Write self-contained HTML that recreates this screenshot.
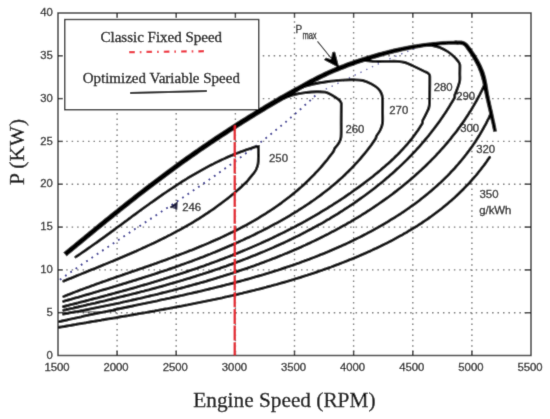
<!DOCTYPE html>
<html><head><meta charset="utf-8"><title>Engine map</title>
<style>html,body{margin:0;padding:0;background:#fff}svg{display:block}</style></head>
<body>
<svg width="550" height="419" viewBox="0 0 550 419">
<rect width="550" height="419" fill="#fff"/>
<defs><filter id="soft" x="0" y="0" width="100%" height="100%" filterUnits="userSpaceOnUse"><feConvolveMatrix order="3" kernelMatrix="1 7 1 7 50 7 1 7 1" divisor="82" edgeMode="duplicate" preserveAlpha="true"/></filter></defs>
<g filter="url(#soft)">
<rect width="550" height="419" fill="#fff"/>
<g stroke="#6e6e6e" stroke-width="1.4" fill="none">
<line x1="117.1" y1="21.2" x2="117.1" y2="355.5" stroke-dasharray="1.5 3.9"/>
<line x1="176.2" y1="21.2" x2="176.2" y2="355.5" stroke-dasharray="1.5 3.9"/>
<line x1="235.4" y1="21.2" x2="235.4" y2="355.5" stroke-dasharray="1.5 3.9"/>
<line x1="294.5" y1="21.2" x2="294.5" y2="355.5" stroke-dasharray="1.5 3.9"/>
<line x1="353.6" y1="21.2" x2="353.6" y2="355.5" stroke-dasharray="1.5 3.9"/>
<line x1="412.8" y1="21.2" x2="412.8" y2="355.5" stroke-dasharray="1.5 3.9"/>
<line x1="471.9" y1="21.2" x2="471.9" y2="355.5" stroke-dasharray="1.5 3.9"/>
<line x1="66.2" y1="312.7" x2="531.0" y2="312.7" stroke-dasharray="1.5 3.96"/>
<line x1="66.2" y1="269.9" x2="531.0" y2="269.9" stroke-dasharray="1.5 3.96"/>
<line x1="66.2" y1="227.1" x2="531.0" y2="227.1" stroke-dasharray="1.5 3.96"/>
<line x1="66.2" y1="184.2" x2="531.0" y2="184.2" stroke-dasharray="1.5 3.96"/>
<line x1="66.2" y1="141.4" x2="531.0" y2="141.4" stroke-dasharray="1.5 3.96"/>
<line x1="66.2" y1="98.6" x2="531.0" y2="98.6" stroke-dasharray="1.5 3.96"/>
<line x1="66.2" y1="55.8" x2="531.0" y2="55.8" stroke-dasharray="1.5 3.96"/>
</g>
<rect x="58.0" y="13.0" width="473.0" height="342.5" fill="none" stroke="#383838" stroke-width="1.5"/>
<g stroke="#1a1a1a" stroke-width="1.4">
<line x1="117.1" y1="13.0" x2="117.1" y2="17.8"/>
<line x1="117.1" y1="355.5" x2="117.1" y2="350.7"/>
<line x1="176.2" y1="13.0" x2="176.2" y2="17.8"/>
<line x1="176.2" y1="355.5" x2="176.2" y2="350.7"/>
<line x1="235.4" y1="13.0" x2="235.4" y2="17.8"/>
<line x1="235.4" y1="355.5" x2="235.4" y2="350.7"/>
<line x1="294.5" y1="13.0" x2="294.5" y2="17.8"/>
<line x1="294.5" y1="355.5" x2="294.5" y2="350.7"/>
<line x1="353.6" y1="13.0" x2="353.6" y2="17.8"/>
<line x1="353.6" y1="355.5" x2="353.6" y2="350.7"/>
<line x1="412.8" y1="13.0" x2="412.8" y2="17.8"/>
<line x1="412.8" y1="355.5" x2="412.8" y2="350.7"/>
<line x1="471.9" y1="13.0" x2="471.9" y2="17.8"/>
<line x1="471.9" y1="355.5" x2="471.9" y2="350.7"/>
<line x1="58.0" y1="312.7" x2="62.8" y2="312.7"/>
<line x1="531.0" y1="312.7" x2="524.7" y2="312.7"/>
<line x1="58.0" y1="269.9" x2="62.8" y2="269.9"/>
<line x1="531.0" y1="269.9" x2="524.7" y2="269.9"/>
<line x1="58.0" y1="227.1" x2="62.8" y2="227.1"/>
<line x1="531.0" y1="227.1" x2="524.7" y2="227.1"/>
<line x1="58.0" y1="184.2" x2="62.8" y2="184.2"/>
<line x1="531.0" y1="184.2" x2="524.7" y2="184.2"/>
<line x1="58.0" y1="141.4" x2="62.8" y2="141.4"/>
<line x1="531.0" y1="141.4" x2="524.7" y2="141.4"/>
<line x1="58.0" y1="98.6" x2="62.8" y2="98.6"/>
<line x1="531.0" y1="98.6" x2="524.7" y2="98.6"/>
<line x1="58.0" y1="55.8" x2="62.8" y2="55.8"/>
<line x1="531.0" y1="55.8" x2="524.7" y2="55.8"/>
</g>
<g font-family="'Liberation Sans', Arial, sans-serif" font-size="11.3" fill="#1c1c1c" stroke="#1c1c1c" stroke-width="0.3">
<text x="57.0" y="370.6" text-anchor="middle">1500</text>
<text x="116.1" y="370.6" text-anchor="middle">2000</text>
<text x="175.2" y="370.6" text-anchor="middle">2500</text>
<text x="234.4" y="370.6" text-anchor="middle">3000</text>
<text x="293.5" y="370.6" text-anchor="middle">3500</text>
<text x="352.6" y="370.6" text-anchor="middle">4000</text>
<text x="411.8" y="370.6" text-anchor="middle">4500</text>
<text x="470.9" y="370.6" text-anchor="middle">5000</text>
<text x="530.0" y="370.6" text-anchor="middle">5500</text>
<text x="52.8" y="358.6" text-anchor="end">0</text>
<text x="52.8" y="315.8" text-anchor="end">5</text>
<text x="52.8" y="273.0" text-anchor="end">10</text>
<text x="52.8" y="230.2" text-anchor="end">15</text>
<text x="52.8" y="187.3" text-anchor="end">20</text>
<text x="52.8" y="144.5" text-anchor="end">25</text>
<text x="52.8" y="101.7" text-anchor="end">30</text>
<text x="52.8" y="58.9" text-anchor="end">35</text>
<text x="52.8" y="16.1" text-anchor="end">40</text>
</g>
<line x1="58.0" y1="312.4" x2="116" y2="311.6" stroke="#222" stroke-width="0.8"/>
<path d="M59.9 279.8 L62.0 278.3 L64.0 276.9 L66.1 275.4 L68.2 274.0 L70.2 272.5 L72.3 271.1 L74.4 269.6 L76.5 268.2 L78.6 266.8 L80.6 265.3 L82.7 263.9 L84.8 262.5 L86.9 261.1 L89.0 259.6 L91.1 258.2 L93.2 256.8 L95.3 255.4 L97.4 254.0 L99.5 252.6 L101.6 251.2 L103.7 249.8 L105.8 248.4 L107.9 247.0 L110.0 245.6 L112.1 244.2 L114.2 242.8 L116.3 241.4 L118.4 240.0 L120.5 238.6 L122.7 237.2 L124.8 235.8 L126.9 234.4 L129.0 233.0 L131.1 231.6 L133.2 230.2 L135.3 228.8 L137.5 227.5 L139.6 226.1 L141.7 224.7 L143.8 223.3 L145.9 221.9 L148.0 220.5 L150.2 219.1 L152.3 217.7 L154.4 216.3 L156.5 215.0 L158.6 213.6 L160.7 212.2 L162.8 210.8 L165.0 209.4 L167.1 208.0 L169.2 206.6 L171.3 205.2 L173.4 203.8 L175.5 202.4 L177.6 201.0 L179.7 199.6 L181.8 198.2 L183.9 196.8 L186.0 195.4 L188.1 194.0 L190.2 192.6 L192.3 191.2 L194.4 189.7 L196.5 188.3 L198.6 186.9 L200.7 185.5 L202.8 184.0 L204.9 182.6 L207.0 181.2 L209.0 179.7 L211.1 178.3 L213.2 176.9 L215.3 175.4 L217.3 174.0 L219.4 172.5 L221.5 171.1 L223.5 169.6 L225.6 168.1 L227.7 166.7 L229.7 165.2 L231.8 163.7 L233.8 162.2 L235.8 160.8 L237.9 159.3 L239.9 157.8 L242.0 156.3 L244.0 154.8 L246.0 153.3 L248.0 151.8 L250.1 150.2 L252.1 148.7 L254.1 147.2 L256.1 145.7 L258.1 144.1 L260.1 142.6 L262.1 141.0 L264.1 139.5 L266.1 137.9 L268.0 136.3 L270.0 134.8 L272.0 133.2 L274.0 131.6 L275.9 130.0 L277.9 128.4 L279.8 126.8 L281.8 125.2 L283.7 123.6 L285.7 122.0 L287.6 120.3 L289.5 118.7 L291.5 117.0 L293.4 115.4 L295.3 113.7 L297.2 112.1 L299.1 110.4 L301.0 108.7 L302.9 107.0 L304.7 105.3 L306.6 103.6 L308.5 101.9 L310.4 100.2 L312.2 98.4 L314.1 96.7 L315.9 95.0 L317.8 93.2 L319.6 91.4" fill="none" stroke="#23238e" stroke-width="1.9" stroke-dasharray="1.8 4.6"/>
<path d="M319.9 91.7 L322.2 90.6 L324.6 89.6 L327.0 88.5 L329.4 87.4 L331.7 86.3 L334.1 85.2 L336.4 84.0 L338.8 82.9 L341.2 81.8 L343.5 80.6 L345.9 79.5 L348.2 78.4 L350.6 77.2 L352.9 76.1 L355.3 74.9 L357.6 73.8 L360.0 72.7 L362.3 71.5 L364.7 70.4 L367.0 69.3 L369.4 68.1 L371.8 67.0 L374.1 65.9 L376.5 64.8 L378.9 63.7 L381.2 62.6 L383.6 61.5 L386.0 60.5 L388.4 59.4 L390.8 58.4 L393.2 57.3 L395.6 56.3 L398.0 55.3 L400.4 54.3 L402.8 53.3 L405.3 52.4 L407.7 51.4 L410.1 50.5 L412.6 49.6 L415.1 48.7 L417.5 47.8 L420.0 47.0" fill="none" stroke="#3a3a9a" stroke-width="1.4" stroke-dasharray="1.4 5" opacity="0.8"/>
<g fill="none" stroke="#0a0a0a" stroke-width="2.9" stroke-linejoin="round" stroke-linecap="round">
<path d="M75.8 256.9 L77.9 255.5 L80.0 254.1 L82.1 252.6 L84.2 251.2 L86.3 249.8 L88.4 248.3 L90.4 246.9 L92.5 245.4 L94.6 243.9 L96.7 242.5 L98.7 241.0 L100.8 239.5 L102.9 238.0 L105.0 236.5 L107.0 235.0 L109.1 233.5 L111.1 232.0 L113.2 230.5 L115.3 228.9 L117.3 227.4 L119.4 225.9 L121.5 224.4 L123.5 222.8 L125.6 221.3 L127.6 219.8 L129.7 218.3 L131.8 216.7 L133.8 215.2 L135.9 213.7 L138.0 212.2 L140.0 210.7 L142.1 209.2 L144.2 207.6 L146.3 206.1 L148.4 204.6 L150.4 203.1 L152.5 201.7 L154.6 200.2 L156.7 198.7 L158.8 197.2 L160.9 195.8 L163.0 194.3 L165.1 192.9 L167.3 191.4 L169.4 190.0 L171.5 188.6 L173.6 187.2 L175.8 185.8 L177.9 184.4 L180.1 183.0 L182.2 181.6 L184.4 180.3 L186.6 178.9 L188.7 177.6 L190.9 176.3 L193.1 175.0 L195.3 173.7 L197.5 172.4 L199.7 171.2 L201.9 169.9 L204.2 168.7 L206.4 167.5 L208.7 166.3 L210.9 165.1 L213.2 164.0 L215.5 162.8 L217.7 161.7 L220.0 160.6 L222.3 159.5 L224.7 158.5 L227.0 157.4 L229.3 156.4 L231.7 155.4 L234.0 154.4 L236.4 153.5 L238.8 152.6 L241.2 151.7 L243.6 150.8 L246.0 149.9 L248.4 149.1 L250.8 148.3 L253.3 147.5 L255.8 146.7 L258.4 146.5 C258.4 147.4 258.4 150.1 258.4 152.0 C258.4 153.9 258.5 156.0 258.4 158.0 C258.3 160.0 258.4 162.1 258.0 164.0 C257.6 165.9 257.0 167.8 256.2 169.5 C255.4 171.2 254.2 172.6 253.0 174.2 C251.8 175.8 249.4 178.5 248.7 179.3 L247.2 181.3 L245.3 183.1 L243.5 184.8 L241.6 186.6 L239.7 188.3 L237.8 190.0 L235.9 191.6 L234.0 193.3 L232.0 194.9 L230.0 196.5 L228.1 198.1 L226.1 199.7 L224.1 201.2 L222.1 202.7 L220.0 204.2 L218.0 205.7 L216.0 207.2 L213.9 208.7 L211.8 210.1 L209.7 211.5 L207.6 213.0 L205.5 214.3 L203.4 215.7 L201.3 217.1 L199.2 218.4 L197.0 219.8 L194.9 221.1 L192.7 222.4 L190.5 223.7 L188.3 224.9 L186.1 226.2 L183.9 227.4 L181.7 228.7 L179.5 229.9 L177.3 231.1 L175.1 232.3 L172.8 233.5 L170.6 234.7 L168.3 235.8 L166.1 237.0 L163.8 238.1 L161.5 239.2 L159.2 240.4 L157.0 241.5 L154.7 242.6 L152.4 243.7 L150.1 244.7 L147.8 245.8 L145.5 246.9 L143.1 247.9 L140.8 249.0 L138.5 250.0 L136.2 251.1 L133.8 252.1 L131.5 253.1 L129.2 254.1 L126.8 255.1 L124.5 256.1 L122.2 257.1 L119.8 258.1 L117.5 259.1 L115.1 260.1 L112.8 261.1 L110.4 262.0 L108.1 263.0 L105.7 264.0 L103.4 264.9 L101.1 265.9 L98.7 266.9 L96.4 267.8 L94.0 268.8 L91.7 269.7 L89.3 270.7 L87.0 271.6 L84.6 272.6 L82.3 273.5 L80.0 274.5 L77.6 275.4 L75.3 276.4 L73.0 277.3 L70.6 278.3 L68.3 279.2 L66.0 280.2 L63.7 281.1" stroke-linejoin="miter"/>
<path d="M278.0 100.5 C278.6 100.2 278.9 100.0 281.6 99.0 C284.3 98.0 290.3 95.7 294.4 94.6 C298.5 93.5 302.7 93.0 306.4 92.5 C310.1 92.0 313.4 91.8 316.5 91.7 C319.6 91.7 322.6 91.6 325.3 92.2 C328.0 92.8 330.3 94.2 332.5 95.4 C334.7 96.6 337.0 98.1 338.4 99.3 C339.8 100.5 340.5 101.4 341.0 102.5 C341.5 103.6 341.3 103.1 341.3 106.0 C341.3 108.9 341.2 114.8 341.2 120.0 C341.1 125.2 341.4 133.3 341.0 137.2 C340.6 141.1 339.6 141.6 338.5 143.5 C337.4 145.4 335.2 147.8 334.5 148.6 L333.8 150.9 L332.3 153.1 L330.7 155.1 L329.1 157.2 L327.5 159.3 L325.9 161.3 L324.2 163.3 L322.6 165.2 L320.9 167.2 L319.2 169.1 L317.5 171.0 L315.7 172.8 L314.0 174.7 L312.2 176.5 L310.4 178.3 L308.6 180.1 L306.8 181.8 L305.0 183.6 L303.1 185.3 L301.2 187.0 L299.3 188.6 L297.4 190.3 L295.5 191.9 L293.6 193.5 L291.6 195.1 L289.7 196.7 L287.7 198.2 L285.7 199.7 L283.7 201.2 L281.7 202.7 L279.6 204.2 L277.6 205.6 L275.5 207.1 L273.5 208.5 L271.4 209.9 L269.3 211.3 L267.2 212.6 L265.1 214.0 L262.9 215.3 L260.8 216.6 L258.6 217.9 L256.5 219.2 L254.3 220.5 L252.1 221.7 L249.9 222.9 L247.7 224.2 L245.5 225.4 L243.2 226.6 L241.0 227.7 L238.8 228.9 L236.5 230.1 L234.2 231.2 L232.0 232.3 L229.7 233.4 L227.4 234.5 L225.1 235.6 L222.8 236.7 L220.5 237.8 L218.2 238.8 L215.8 239.9 L213.5 240.9 L211.2 241.9 L208.8 243.0 L206.5 244.0 L204.1 245.0 L201.8 245.9 L199.4 246.9 L197.0 247.9 L194.7 248.8 L192.3 249.8 L189.9 250.7 L187.5 251.7 L185.1 252.6 L182.7 253.5 L180.3 254.4 L177.9 255.3 L175.5 256.2 L173.1 257.1 L170.7 258.0 L168.3 258.9 L165.9 259.8 L163.5 260.7 L161.1 261.5 L158.6 262.4 L156.2 263.3 L153.8 264.1 L151.4 265.0 L149.0 265.8 L146.5 266.7 L144.1 267.5 L141.7 268.4 L139.3 269.2 L136.9 270.0 L134.5 270.9 L132.0 271.7 L129.6 272.5 L127.2 273.4 L124.8 274.2 L122.4 275.0 L120.0 275.9 L117.6 276.7 L115.2 277.5 L112.8 278.4 L110.4 279.2 L108.0 280.0 L105.7 280.9 L103.3 281.7 L100.9 282.5 L98.5 283.4 L96.2 284.2 L93.8 285.1 L91.5 285.9 L89.1 286.8 L86.8 287.6 L84.4 288.5 L82.1 289.4 L79.8 290.2 L77.5 291.1 L75.1 292.0 L72.8 292.9 L70.5 293.8 L68.3 294.7 L66.0 295.6 L63.7 296.5"/>
<path d="M300.0 88.0 C300.6 87.8 301.2 87.5 303.5 86.8 C305.8 86.1 309.5 84.9 313.6 84.0 C317.7 83.1 323.4 82.2 328.2 81.5 C333.0 80.8 338.4 80.4 342.7 80.1 C346.9 79.8 350.3 79.7 353.7 79.8 C357.1 79.9 359.8 79.8 362.8 80.5 C365.8 81.2 368.9 82.6 371.5 84.0 C374.1 85.4 376.6 87.0 378.3 88.8 C380.0 90.5 381.1 92.6 381.8 94.5 C382.5 96.4 382.5 97.1 382.6 100.0 C382.7 102.9 382.6 108.1 382.6 112.0 C382.6 115.9 382.9 120.2 382.5 123.2 C382.1 126.2 381.3 127.9 380.3 130.0 C379.3 132.1 377.1 134.9 376.5 135.9 L375.8 138.4 L374.3 140.6 L372.9 142.7 L371.4 144.8 L369.9 146.8 L368.3 148.9 L366.8 150.9 L365.2 152.9 L363.6 154.8 L361.9 156.8 L360.3 158.7 L358.6 160.6 L356.9 162.5 L355.2 164.3 L353.5 166.2 L351.8 168.0 L350.0 169.8 L348.2 171.6 L346.4 173.3 L344.6 175.1 L342.8 176.8 L340.9 178.5 L339.0 180.2 L337.2 181.8 L335.3 183.5 L333.3 185.1 L331.4 186.7 L329.5 188.3 L327.5 189.8 L325.5 191.4 L323.5 192.9 L321.5 194.5 L319.5 196.0 L317.5 197.4 L315.5 198.9 L313.4 200.4 L311.3 201.8 L309.3 203.2 L307.2 204.6 L305.1 206.0 L303.0 207.4 L300.8 208.8 L298.7 210.1 L296.6 211.5 L294.4 212.8 L292.2 214.1 L290.1 215.4 L287.9 216.7 L285.7 218.0 L283.5 219.2 L281.3 220.5 L279.1 221.7 L276.9 222.9 L274.7 224.1 L272.4 225.3 L270.2 226.5 L268.0 227.7 L265.7 228.9 L263.5 230.0 L261.2 231.2 L258.9 232.3 L256.7 233.4 L254.4 234.6 L252.1 235.7 L249.8 236.8 L247.5 237.8 L245.2 238.9 L242.9 240.0 L240.6 241.0 L238.3 242.1 L236.0 243.1 L233.7 244.2 L231.4 245.2 L229.0 246.2 L226.7 247.2 L224.4 248.2 L222.0 249.2 L219.7 250.1 L217.3 251.1 L215.0 252.1 L212.6 253.0 L210.3 254.0 L207.9 254.9 L205.5 255.8 L203.2 256.8 L200.8 257.7 L198.4 258.6 L196.0 259.5 L193.6 260.4 L191.3 261.3 L188.9 262.1 L186.5 263.0 L184.1 263.9 L181.7 264.7 L179.3 265.6 L176.9 266.4 L174.5 267.3 L172.1 268.1 L169.7 268.9 L167.3 269.8 L164.9 270.6 L162.5 271.4 L160.0 272.2 L157.6 273.0 L155.2 273.8 L152.8 274.6 L150.4 275.4 L148.0 276.1 L145.6 276.9 L143.1 277.7 L140.7 278.5 L138.3 279.2 L135.9 280.0 L133.5 280.7 L131.0 281.5 L128.6 282.2 L126.2 283.0 L123.8 283.7 L121.3 284.5 L118.9 285.2 L116.5 285.9 L114.1 286.6 L111.7 287.4 L109.2 288.1 L106.8 288.8 L104.4 289.5 L102.0 290.2 L99.6 290.9 L97.2 291.7 L94.7 292.4 L92.3 293.1 L89.9 293.8 L87.5 294.5 L85.1 295.2 L82.7 295.9 L80.3 296.6 L77.9 297.3 L75.5 297.9 L73.1 298.6 L70.7 299.3 L68.3 300.0 L65.9 300.7 L63.5 301.4"/>
<path d="M361.0 60.5 C361.8 60.5 363.2 60.5 365.7 60.6 C368.2 60.8 372.5 61.3 375.9 61.4 C379.3 61.5 382.4 61.4 386.0 61.4 C389.6 61.4 394.5 61.2 397.7 61.4 C400.9 61.6 402.5 61.8 405.0 62.5 C407.5 63.2 409.5 64.3 412.7 65.8 C415.9 67.3 421.5 70.0 424.1 71.3 C426.7 72.5 427.3 72.6 428.2 73.3 C429.1 74.0 429.3 74.2 429.6 75.2 C429.9 76.2 429.8 76.5 429.8 79.0 C429.8 81.5 429.8 85.6 429.7 90.0 C429.6 94.4 429.8 101.8 429.3 105.5 C428.9 109.2 428.1 109.5 427.0 112.0 C425.9 114.5 423.4 119.2 422.7 120.6 L422.3 123.4 L421.0 125.5 L419.6 127.7 L418.3 129.8 L416.8 131.8 L415.4 133.9 L413.9 135.9 L412.4 137.9 L410.9 139.8 L409.3 141.7 L407.7 143.7 L406.1 145.5 L404.4 147.4 L402.7 149.3 L401.0 151.1 L399.3 152.9 L397.5 154.7 L395.7 156.4 L393.9 158.2 L392.1 159.9 L390.3 161.6 L388.4 163.3 L386.5 164.9 L384.6 166.6 L382.7 168.2 L380.8 169.9 L378.9 171.5 L376.9 173.1 L374.9 174.7 L373.0 176.3 L371.0 177.8 L369.0 179.4 L367.0 180.9 L365.0 182.4 L363.0 184.0 L360.9 185.5 L358.9 187.0 L356.8 188.5 L354.8 189.9 L352.7 191.4 L350.7 192.9 L348.6 194.3 L346.5 195.7 L344.4 197.2 L342.3 198.6 L340.2 200.0 L338.1 201.4 L335.9 202.8 L333.8 204.1 L331.7 205.5 L329.5 206.8 L327.4 208.2 L325.2 209.5 L323.0 210.8 L320.9 212.1 L318.7 213.4 L316.5 214.7 L314.3 216.0 L312.1 217.2 L309.9 218.5 L307.7 219.7 L305.5 221.0 L303.3 222.2 L301.1 223.4 L298.8 224.6 L296.6 225.8 L294.4 227.0 L292.1 228.1 L289.9 229.3 L287.6 230.4 L285.4 231.6 L283.1 232.7 L280.9 233.8 L278.6 234.9 L276.3 236.0 L274.0 237.1 L271.8 238.2 L269.5 239.3 L267.2 240.3 L264.9 241.4 L262.6 242.4 L260.3 243.5 L258.0 244.5 L255.7 245.5 L253.4 246.5 L251.1 247.5 L248.7 248.5 L246.4 249.5 L244.1 250.4 L241.8 251.4 L239.4 252.4 L237.1 253.3 L234.7 254.2 L232.4 255.2 L230.1 256.1 L227.7 257.0 L225.4 257.9 L223.0 258.8 L220.6 259.7 L218.3 260.6 L215.9 261.5 L213.5 262.4 L211.2 263.2 L208.8 264.1 L206.4 264.9 L204.1 265.8 L201.7 266.6 L199.3 267.4 L196.9 268.3 L194.5 269.1 L192.1 269.9 L189.7 270.7 L187.3 271.5 L184.9 272.3 L182.5 273.1 L180.1 273.9 L177.7 274.6 L175.3 275.4 L172.9 276.2 L170.5 276.9 L168.1 277.7 L165.7 278.4 L163.3 279.2 L160.9 279.9 L158.4 280.7 L156.0 281.4 L153.6 282.1 L151.2 282.8 L148.7 283.6 L146.3 284.3 L143.9 285.0 L141.5 285.7 L139.0 286.4 L136.6 287.1 L134.2 287.8 L131.7 288.5 L129.3 289.1 L126.9 289.8 L124.4 290.5 L122.0 291.2 L119.5 291.8 L117.1 292.5 L114.7 293.2 L112.2 293.8 L109.8 294.5 L107.3 295.2 L104.9 295.8 L102.5 296.5 L100.0 297.1 L97.6 297.8 L95.1 298.4 L92.7 299.0 L90.2 299.7 L87.8 300.3 L85.3 301.0 L82.9 301.6 L80.5 302.2 L78.0 302.9 L75.6 303.5 L73.1 304.1 L70.7 304.7 L68.2 305.4 L65.8 306.0 L63.3 306.6"/>
<path d="M428.0 45.0 C428.6 45.0 429.5 44.9 431.4 45.3 C433.3 45.7 436.8 46.3 439.5 47.4 C442.2 48.5 445.3 50.0 447.8 51.6 C450.3 53.2 452.8 55.5 454.6 57.2 C456.4 58.9 457.7 60.8 458.6 62.0 C459.5 63.2 459.6 63.5 459.8 64.5 C460.0 65.5 459.9 66.4 459.9 68.0 C459.9 69.6 459.8 71.8 459.8 74.0 C459.8 76.2 460.1 78.6 459.7 81.0 C459.3 83.4 458.3 85.9 457.5 88.2 C456.7 90.5 455.2 93.9 454.8 95.0 L454.7 97.6 L453.4 99.8 L452.1 102.0 L450.8 104.1 L449.5 106.3 L448.1 108.5 L446.8 110.6 L445.4 112.7 L444.0 114.8 L442.6 116.9 L441.1 119.0 L439.7 121.1 L438.2 123.1 L436.7 125.2 L435.2 127.2 L433.7 129.2 L432.1 131.2 L430.6 133.2 L429.0 135.2 L427.4 137.1 L425.8 139.0 L424.2 141.0 L422.5 142.9 L420.9 144.8 L419.2 146.7 L417.5 148.5 L415.8 150.4 L414.1 152.2 L412.3 154.1 L410.6 155.9 L408.8 157.7 L407.1 159.5 L405.3 161.2 L403.5 163.0 L401.7 164.7 L399.8 166.5 L398.0 168.2 L396.1 169.9 L394.3 171.6 L392.4 173.3 L390.5 174.9 L388.6 176.6 L386.7 178.2 L384.8 179.8 L382.8 181.5 L380.9 183.1 L378.9 184.6 L377.0 186.2 L375.0 187.8 L373.0 189.3 L371.0 190.8 L369.0 192.4 L367.0 193.9 L365.0 195.4 L362.9 196.9 L360.9 198.3 L358.8 199.8 L356.8 201.2 L354.7 202.7 L352.6 204.1 L350.5 205.5 L348.4 206.9 L346.3 208.3 L344.2 209.6 L342.1 211.0 L340.0 212.3 L337.9 213.7 L335.7 215.0 L333.6 216.3 L331.4 217.6 L329.3 218.9 L327.1 220.1 L324.9 221.4 L322.8 222.7 L320.6 223.9 L318.4 225.1 L316.2 226.3 L314.0 227.5 L311.8 228.7 L309.5 229.9 L307.3 231.1 L305.1 232.3 L302.8 233.4 L300.6 234.6 L298.4 235.7 L296.1 236.8 L293.8 237.9 L291.6 239.0 L289.3 240.1 L287.0 241.2 L284.8 242.3 L282.5 243.3 L280.2 244.4 L277.9 245.4 L275.6 246.4 L273.3 247.5 L271.0 248.5 L268.6 249.5 L266.3 250.5 L264.0 251.5 L261.7 252.4 L259.3 253.4 L257.0 254.4 L254.7 255.3 L252.3 256.2 L250.0 257.2 L247.6 258.1 L245.3 259.0 L242.9 259.9 L240.5 260.8 L238.2 261.7 L235.8 262.6 L233.4 263.5 L231.0 264.3 L228.6 265.2 L226.3 266.1 L223.9 266.9 L221.5 267.7 L219.1 268.6 L216.7 269.4 L214.3 270.2 L211.9 271.0 L209.5 271.8 L207.1 272.6 L204.7 273.4 L202.3 274.2 L199.8 274.9 L197.4 275.7 L195.0 276.5 L192.6 277.2 L190.2 278.0 L187.7 278.7 L185.3 279.4 L182.9 280.2 L180.4 280.9 L178.0 281.6 L175.6 282.3 L173.2 283.0 L170.7 283.7 L168.3 284.4 L165.8 285.1 L163.4 285.8 L161.0 286.5 L158.5 287.1 L156.1 287.8 L153.6 288.5 L151.2 289.1 L148.8 289.8 L146.3 290.4 L143.9 291.1 L141.4 291.7 L139.0 292.3 L136.5 293.0 L134.1 293.6 L131.7 294.2 L129.2 294.8 L126.8 295.4 L124.3 296.0 L121.9 296.6 L119.4 297.2 L117.0 297.8 L114.6 298.4 L112.1 299.0 L109.7 299.6 L107.3 300.2 L104.8 300.8 L102.4 301.3 L99.9 301.9 L97.5 302.5 L95.1 303.1 L92.7 303.6 L90.2 304.2 L87.8 304.7 L85.4 305.3 L83.0 305.9 L80.5 306.4 L78.1 307.0 L75.7 307.5 L73.3 308.1 L70.9 308.6 L68.5 309.1 L66.1 309.7 L63.7 310.2"/>
<path d="M485.3 83.1 L484.3 85.4 L483.2 87.7 L482.1 90.0 L480.9 92.3 L479.8 94.6 L478.6 96.8 L477.4 99.0 L476.2 101.3 L474.9 103.5 L473.7 105.6 L472.4 107.8 L471.1 110.0 L469.7 112.1 L468.4 114.3 L467.0 116.4 L465.6 118.5 L464.2 120.6 L462.8 122.6 L461.3 124.7 L459.9 126.7 L458.4 128.7 L456.9 130.8 L455.3 132.8 L453.8 134.7 L452.2 136.7 L450.7 138.7 L449.1 140.6 L447.5 142.5 L445.8 144.5 L444.2 146.4 L442.5 148.2 L440.8 150.1 L439.2 152.0 L437.4 153.8 L435.7 155.7 L434.0 157.5 L432.2 159.3 L430.5 161.1 L428.7 162.8 L426.9 164.6 L425.1 166.4 L423.2 168.1 L421.4 169.8 L419.5 171.5 L417.7 173.2 L415.8 174.9 L413.9 176.6 L412.0 178.2 L410.1 179.9 L408.2 181.5 L406.2 183.1 L404.3 184.7 L402.3 186.3 L400.4 187.9 L398.4 189.4 L396.4 191.0 L394.4 192.5 L392.4 194.1 L390.3 195.6 L388.3 197.1 L386.3 198.5 L384.2 200.0 L382.1 201.5 L380.1 202.9 L378.0 204.4 L375.9 205.8 L373.8 207.2 L371.7 208.6 L369.6 210.0 L367.5 211.3 L365.4 212.7 L363.2 214.0 L361.1 215.4 L358.9 216.7 L356.8 218.0 L354.6 219.3 L352.5 220.6 L350.3 221.9 L348.1 223.1 L345.9 224.4 L343.7 225.6 L341.5 226.8 L339.3 228.1 L337.1 229.3 L334.9 230.5 L332.6 231.6 L330.4 232.8 L328.2 234.0 L325.9 235.1 L323.7 236.3 L321.4 237.4 L319.2 238.5 L316.9 239.6 L314.6 240.7 L312.3 241.8 L310.1 242.9 L307.8 243.9 L305.5 245.0 L303.2 246.0 L300.9 247.1 L298.6 248.1 L296.3 249.1 L293.9 250.1 L291.6 251.1 L289.3 252.1 L287.0 253.1 L284.6 254.0 L282.3 255.0 L280.0 255.9 L277.6 256.9 L275.3 257.8 L272.9 258.7 L270.6 259.6 L268.2 260.5 L265.8 261.4 L263.5 262.3 L261.1 263.2 L258.7 264.1 L256.4 264.9 L254.0 265.8 L251.6 266.6 L249.2 267.5 L246.8 268.3 L244.4 269.1 L242.0 269.9 L239.7 270.7 L237.3 271.5 L234.9 272.3 L232.5 273.1 L230.1 273.9 L227.6 274.6 L225.2 275.4 L222.8 276.2 L220.4 276.9 L218.0 277.6 L215.6 278.4 L213.2 279.1 L210.7 279.8 L208.3 280.5 L205.9 281.3 L203.5 282.0 L201.0 282.6 L198.6 283.3 L196.2 284.0 L193.7 284.7 L191.3 285.4 L188.9 286.0 L186.4 286.7 L184.0 287.4 L181.6 288.0 L179.1 288.7 L176.7 289.3 L174.2 289.9 L171.8 290.6 L169.3 291.2 L166.9 291.8 L164.5 292.4 L162.0 293.0 L159.6 293.7 L157.1 294.3 L154.6 294.9 L152.2 295.4 L149.7 296.0 L147.3 296.6 L144.8 297.2 L142.4 297.8 L139.9 298.4 L137.5 298.9 L135.0 299.5 L132.5 300.0 L130.1 300.6 L127.6 301.1 L125.2 301.7 L122.7 302.2 L120.2 302.8 L117.8 303.3 L115.3 303.8 L112.8 304.4 L110.4 304.9 L107.9 305.4 L105.4 305.9 L103.0 306.4 L100.5 306.9 L98.0 307.4 L95.6 307.9 L93.1 308.4 L90.6 308.9 L88.2 309.4 L85.7 309.9 L83.2 310.4 L80.8 310.8 L78.3 311.3 L75.8 311.8 L73.3 312.2 L70.9 312.7 L68.4 313.2 L65.9 313.6 L63.5 314.1"/>
<path d="M491.1 113.1 L490.0 115.4 L488.9 117.8 L487.7 120.1 L486.6 122.5 L485.4 124.8 L484.1 127.0 L482.9 129.3 L481.6 131.5 L480.3 133.7 L479.0 135.9 L477.6 138.1 L476.2 140.2 L474.9 142.4 L473.4 144.5 L472.0 146.6 L470.5 148.6 L469.0 150.7 L467.5 152.7 L466.0 154.7 L464.4 156.7 L462.8 158.6 L461.2 160.6 L459.6 162.5 L458.0 164.4 L456.3 166.3 L454.7 168.2 L453.0 170.0 L451.2 171.8 L449.5 173.7 L447.8 175.5 L446.0 177.2 L444.2 179.0 L442.4 180.7 L440.6 182.5 L438.7 184.2 L436.9 185.8 L435.0 187.5 L433.1 189.2 L431.2 190.8 L429.3 192.4 L427.4 194.0 L425.4 195.6 L423.5 197.2 L421.5 198.7 L419.5 200.3 L417.5 201.8 L415.5 203.3 L413.5 204.8 L411.4 206.2 L409.4 207.7 L407.3 209.1 L405.2 210.6 L403.2 212.0 L401.1 213.4 L399.0 214.7 L396.8 216.1 L394.7 217.5 L392.6 218.8 L390.4 220.1 L388.3 221.4 L386.1 222.7 L384.0 224.0 L381.8 225.3 L379.6 226.5 L377.4 227.8 L375.2 229.0 L373.0 230.2 L370.8 231.4 L368.6 232.6 L366.4 233.8 L364.2 234.9 L361.9 236.1 L359.7 237.2 L357.4 238.3 L355.2 239.4 L352.9 240.5 L350.7 241.6 L348.4 242.7 L346.1 243.8 L343.8 244.8 L341.5 245.9 L339.2 246.9 L336.9 247.9 L334.6 248.9 L332.3 249.9 L330.0 250.9 L327.7 251.9 L325.4 252.8 L323.0 253.8 L320.7 254.7 L318.4 255.7 L316.0 256.6 L313.7 257.5 L311.3 258.4 L309.0 259.3 L306.6 260.2 L304.2 261.0 L301.8 261.9 L299.5 262.8 L297.1 263.6 L294.7 264.5 L292.3 265.3 L289.9 266.1 L287.5 266.9 L285.1 267.7 L282.7 268.5 L280.3 269.3 L277.9 270.1 L275.5 270.8 L273.1 271.6 L270.7 272.4 L268.3 273.1 L265.8 273.8 L263.4 274.6 L261.0 275.3 L258.5 276.0 L256.1 276.7 L253.7 277.4 L251.2 278.1 L248.8 278.8 L246.3 279.5 L243.9 280.2 L241.4 280.8 L239.0 281.5 L236.5 282.2 L234.1 282.8 L231.6 283.5 L229.1 284.1 L226.7 284.7 L224.2 285.4 L221.8 286.0 L219.3 286.6 L216.8 287.2 L214.3 287.8 L211.9 288.4 L209.4 289.0 L206.9 289.6 L204.5 290.2 L202.0 290.8 L199.5 291.4 L197.0 292.0 L194.5 292.5 L192.1 293.1 L189.6 293.7 L187.1 294.2 L184.6 294.8 L182.2 295.4 L179.7 295.9 L177.2 296.5 L174.7 297.0 L172.2 297.5 L169.8 298.1 L167.3 298.6 L164.8 299.2 L162.3 299.7 L159.8 300.2 L157.4 300.8 L154.9 301.3 L152.4 301.8 L149.9 302.3 L147.4 302.8 L145.0 303.4 L142.5 303.9 L140.0 304.4 L137.6 304.9 L135.1 305.4 L132.6 306.0 L130.1 306.5 L127.7 307.0 L125.2 307.5 L122.8 308.0 L120.3 308.5 L117.8 309.0 L115.4 309.5 L112.9 310.1 L110.5 310.6 L108.0 311.1 L105.6 311.6 L103.1 312.1 L100.7 312.6 L98.2 313.1 L95.8 313.6 L93.4 314.2 L90.9 314.7 L88.5 315.2 L86.1 315.7 L83.6 316.2 L81.2 316.8 L78.8 317.3 L76.4 317.8 L74.0 318.4 L71.6 318.9 L69.2 319.4 L66.8 320.0 L64.4 320.5 L62.0 321.0 L59.6 321.6"/>
<path d="M489.6 157.3 L488.1 159.4 L486.7 161.5 L485.2 163.6 L483.7 165.7 L482.1 167.7 L480.6 169.7 L479.0 171.7 L477.4 173.7 L475.8 175.6 L474.1 177.5 L472.5 179.4 L470.8 181.3 L469.1 183.2 L467.4 185.0 L465.6 186.8 L463.9 188.6 L462.1 190.4 L460.3 192.1 L458.5 193.9 L456.7 195.6 L454.9 197.3 L453.0 199.0 L451.2 200.6 L449.3 202.2 L447.4 203.8 L445.5 205.4 L443.5 207.0 L441.6 208.6 L439.6 210.1 L437.6 211.6 L435.6 213.1 L433.6 214.6 L431.6 216.1 L429.6 217.5 L427.6 219.0 L425.5 220.4 L423.4 221.8 L421.4 223.2 L419.3 224.5 L417.2 225.9 L415.0 227.2 L412.9 228.5 L410.8 229.8 L408.6 231.1 L406.5 232.4 L404.3 233.6 L402.1 234.9 L399.9 236.1 L397.7 237.3 L395.5 238.5 L393.3 239.7 L391.1 240.9 L388.9 242.0 L386.6 243.2 L384.4 244.3 L382.1 245.4 L379.9 246.5 L377.6 247.6 L375.3 248.7 L373.0 249.7 L370.7 250.8 L368.4 251.8 L366.1 252.9 L363.8 253.9 L361.5 254.9 L359.2 255.9 L356.9 256.8 L354.6 257.8 L352.2 258.8 L349.9 259.7 L347.6 260.7 L345.2 261.6 L342.9 262.5 L340.6 263.4 L338.2 264.3 L335.9 265.2 L333.5 266.1 L331.1 267.0 L328.8 267.8 L326.4 268.7 L324.0 269.5 L321.7 270.4 L319.3 271.2 L316.9 272.0 L314.5 272.8 L312.1 273.6 L309.8 274.4 L307.4 275.2 L305.0 275.9 L302.6 276.7 L300.2 277.5 L297.8 278.2 L295.4 278.9 L293.0 279.7 L290.6 280.4 L288.1 281.1 L285.7 281.8 L283.3 282.5 L280.9 283.2 L278.5 283.9 L276.0 284.6 L273.6 285.2 L271.2 285.9 L268.7 286.5 L266.3 287.2 L263.9 287.8 L261.4 288.5 L259.0 289.1 L256.6 289.7 L254.1 290.3 L251.7 290.9 L249.2 291.5 L246.8 292.1 L244.3 292.7 L241.9 293.3 L239.4 293.9 L237.0 294.5 L234.5 295.0 L232.0 295.6 L229.6 296.1 L227.1 296.7 L224.7 297.2 L222.2 297.8 L219.7 298.3 L217.3 298.8 L214.8 299.4 L212.3 299.9 L209.9 300.4 L207.4 300.9 L204.9 301.4 L202.5 301.9 L200.0 302.4 L197.5 302.9 L195.0 303.4 L192.6 303.9 L190.1 304.4 L187.6 304.9 L185.1 305.3 L182.7 305.8 L180.2 306.3 L177.7 306.7 L175.2 307.2 L172.8 307.7 L170.3 308.1 L167.8 308.6 L165.3 309.0 L162.8 309.5 L160.4 309.9 L157.9 310.4 L155.4 310.8 L152.9 311.3 L150.4 311.7 L148.0 312.1 L145.5 312.6 L143.0 313.0 L140.5 313.4 L138.1 313.9 L135.6 314.3 L133.1 314.7 L130.6 315.1 L128.2 315.6 L125.7 316.0 L123.2 316.4 L120.7 316.8 L118.3 317.2 L115.8 317.7 L113.3 318.1 L110.9 318.5 L108.4 318.9 L105.9 319.3 L103.5 319.7 L101.0 320.2 L98.5 320.6 L96.1 321.0 L93.6 321.4 L91.2 321.8 L88.7 322.2 L86.2 322.7 L83.8 323.1 L81.3 323.5 L78.9 323.9 L76.4 324.3 L74.0 324.8 L71.5 325.2 L69.1 325.6 L66.7 326.0 L64.2 326.5 L61.8 326.9 L59.3 327.3"/>
</g>
<path d="M66.7 256.2 L68.6 254.6 L70.5 253.0 L72.5 251.4 L74.4 249.8 L76.4 248.2 L78.3 246.6 L80.3 245.0 L82.2 243.4 L84.2 241.8 L86.1 240.2 L88.0 238.6 L90.0 237.0 L91.9 235.4 L93.9 233.8 L95.8 232.2 L97.8 230.6 L99.7 229.0 L101.7 227.4 L103.6 225.8 L105.6 224.2 L107.5 222.6 L109.5 221.1 L111.4 219.5 L113.4 217.9 L115.3 216.3 L117.3 214.8 L119.3 213.2 L121.2 211.6 L123.2 210.1 L125.1 208.5 L127.1 206.9 L129.1 205.4 L131.0 203.8 L133.0 202.3 L135.0 200.7 L137.0 199.2 L138.9 197.6 L140.9 196.1 L142.9 194.6 L144.9 193.0 L146.9 191.5 L148.8 190.0 L150.8 188.5 L152.8 186.9 L154.8 185.4 L156.8 183.9 L158.8 182.4 L160.8 180.9 L162.8 179.4 L164.8 177.9 L166.8 176.4 L168.8 174.9 L170.9 173.4 L172.9 171.9 L174.9 170.4 L176.9 169.0 L179.0 167.5 L181.0 166.0 L183.0 164.6 L185.1 163.1 L187.1 161.7 L189.2 160.2 L191.2 158.8 L193.3 157.3 L195.3 155.9 L197.4 154.5 L199.4 153.0 L201.5 151.6 L203.6 150.2 L205.7 148.8 L207.7 147.4 L209.8 146.0 L211.9 144.6 L214.0 143.2 L216.1 141.8 L218.2 140.4 L220.3 139.0 L222.4 137.6 L224.5 136.2 L226.6 134.9 L228.7 133.5 L230.8 132.1 L232.9 130.8 L235.0 129.4 L237.2 128.1 L239.3 126.7 L241.4 125.4 L243.5 124.1 L245.7 122.7 L247.8 121.4 L250.0 120.1 L252.1 118.7 L254.2 117.4 L256.4 116.1 L258.5 114.8 L260.7 113.5 L262.8 112.2 L265.0 110.9 L267.1 109.6 L269.3 108.3 L271.5 107.1 L273.6 105.8 L275.8 104.5 L277.9 103.2 L280.1 102.0 L282.3 100.7 L284.4 99.4 L286.6 98.1 L288.7 96.8 L290.9 95.5 L293.0 94.3 L295.2 93.0 L297.4 91.7 L299.5 90.5 L301.7 89.2 L303.9 88.0 L306.1 86.8 L308.2 85.6 L310.4 84.4 L312.6 83.3 L314.9 82.1 L317.1 81.0 L319.3 79.9 L321.5 78.8 L323.7 77.7 L326.0 76.7 L328.2 75.6 L330.5 74.6 L332.8 73.6 L335.0 72.6 L337.3 71.7 L339.6 70.8 L342.0 69.8 L344.3 68.9 L346.6 68.0 L348.9 67.1 L351.3 66.3 L353.6 65.4 L356.0 64.6 L358.3 63.7 L360.7 62.9 L363.1 62.2 L365.4 61.4 L367.8 60.6 L370.2 59.9 L372.6 59.1 L375.0 58.4 L377.5 57.7 L379.9 57.0 L382.3 56.3 L384.7 55.6 L387.1 54.9 L389.6 54.3 L392.0 53.7 L394.4 53.1 L396.9 52.5 L399.3 51.9 L401.8 51.3 L404.2 50.8 L406.7 50.3 L409.1 49.8 L411.6 49.3 L414.0 48.8 L416.5 48.3 L418.9 47.9 L421.4 47.5 L423.9 47.1 L426.3 46.7 L428.8 46.4 L431.3 46.1 L433.7 45.8 L436.2 45.5 L438.7 45.3 L441.1 45.1 L443.6 44.9 L446.1 44.7 L448.5 44.6 L451.0 44.5 L453.4 44.4 L455.8 44.6 L457.7 44.7 L459.5 44.6 L461.0 44.7 L462.4 45.1 L463.6 45.7 L464.5 46.5 L465.3 47.6 L466.3 49.0 L467.3 50.4 L468.3 51.8 L469.3 53.2 L470.2 54.6 L471.2 56.1 L472.1 57.5 L473.0 59.0 L473.9 60.5 L474.7 62.0 L475.5 63.5 L476.3 65.0 L477.1 66.6 L477.8 68.1 L478.4 69.7 L479.1 71.2 L479.7 72.8 L480.2 74.4 L480.7 76.0 L481.2 77.6 L481.6 79.2 L482.1 80.8 L482.5 82.5 L482.8 84.2 L483.2 85.9 L483.5 87.5 L483.8 89.3 L484.2 91.0 L484.5 92.7 L484.9 94.4 L485.2 96.1 L485.6 97.9 L486.0 99.6 L486.4 101.3 L486.8 103.0 L487.2 104.7 L487.6 106.4 L488.0 108.1 L488.4 109.8 L488.8 111.5 L489.2 113.2 L489.6 114.9 L490.0 116.6 L490.4 118.2 L490.8 119.9 L491.2 121.6 L491.6 123.3 L492.0 125.0 L492.3 126.7 L492.7 128.4 L493.1 130.1 L493.4 131.8 L496.8 131.2 L496.4 129.4 L496.1 127.7 L495.8 126.0 L495.4 124.3 L495.1 122.6 L494.7 120.9 L494.3 119.2 L494.0 117.5 L493.6 115.7 L493.2 114.0 L492.9 112.3 L492.5 110.6 L492.1 108.9 L491.7 107.2 L491.3 105.5 L490.9 103.8 L490.6 102.1 L490.2 100.4 L489.8 98.7 L489.5 97.0 L489.1 95.3 L488.8 93.6 L488.5 91.9 L488.2 90.2 L488.0 88.5 L487.7 86.8 L487.4 85.1 L487.1 83.3 L486.7 81.6 L486.4 79.9 L486.0 78.1 L485.6 76.4 L485.1 74.7 L484.6 72.9 L484.0 71.2 L483.3 69.6 L482.6 67.9 L481.9 66.2 L481.1 64.6 L480.3 63.0 L479.5 61.4 L478.6 59.8 L477.7 58.2 L476.8 56.7 L475.9 55.2 L474.9 53.6 L473.9 52.2 L472.9 50.7 L471.9 49.2 L470.9 47.8 L469.8 46.4 L468.7 45.0 L467.4 43.5 L465.7 42.2 L463.7 41.3 L461.7 40.8 L459.5 40.7 L457.7 40.8 L455.9 40.6 L453.4 40.9 L450.9 40.9 L448.4 41.0 L445.9 41.2 L443.3 41.3 L440.8 41.5 L438.3 41.7 L435.8 41.9 L433.3 42.1 L430.8 42.4 L428.3 42.7 L425.8 43.0 L423.3 43.3 L420.8 43.7 L418.3 44.0 L415.8 44.4 L413.3 44.8 L410.8 45.3 L408.3 45.7 L405.8 46.2 L403.3 46.7 L400.9 47.2 L398.4 47.7 L395.9 48.3 L393.4 48.8 L390.9 49.4 L388.5 50.0 L386.0 50.7 L383.5 51.3 L381.1 52.0 L378.6 52.6 L376.2 53.3 L373.8 54.0 L371.3 54.7 L368.9 55.4 L366.5 56.2 L364.0 56.9 L361.6 57.7 L359.2 58.5 L356.8 59.3 L354.4 60.1 L352.0 60.9 L349.6 61.7 L347.2 62.6 L344.9 63.5 L342.5 64.4 L340.2 65.3 L337.8 66.2 L335.5 67.2 L333.1 68.2 L330.8 69.2 L328.5 70.2 L326.2 71.3 L323.9 72.3 L321.7 73.4 L319.4 74.5 L317.2 75.6 L314.9 76.8 L312.7 78.0 L310.5 79.1 L308.2 80.3 L306.0 81.5 L303.8 82.7 L301.6 84.0 L299.4 85.2 L297.2 86.4 L295.0 87.6 L292.8 88.8 L290.6 90.0 L288.4 91.2 L286.2 92.4 L284.0 93.7 L281.8 94.9 L279.6 96.1 L277.4 97.4 L275.3 98.7 L273.1 99.9 L270.9 101.2 L268.8 102.5 L266.6 103.8 L264.4 105.1 L262.3 106.4 L260.1 107.7 L258.0 109.0 L255.8 110.3 L253.6 111.7 L251.5 113.0 L249.3 114.3 L247.2 115.6 L245.1 117.0 L242.9 118.3 L240.8 119.6 L238.6 121.0 L236.5 122.3 L234.4 123.7 L232.3 125.1 L230.1 126.4 L228.0 127.8 L225.9 129.2 L223.8 130.6 L221.7 131.9 L219.6 133.3 L217.4 134.7 L215.3 136.1 L213.2 137.5 L211.1 138.9 L209.1 140.3 L207.0 141.7 L204.9 143.2 L202.8 144.6 L200.7 146.0 L198.6 147.4 L196.6 148.9 L194.5 150.3 L192.4 151.8 L190.4 153.2 L188.3 154.7 L186.3 156.1 L184.2 157.6 L182.2 159.1 L180.1 160.5 L178.1 162.0 L176.0 163.5 L174.0 165.0 L172.0 166.5 L170.0 167.9 L167.9 169.4 L165.9 170.9 L163.9 172.4 L161.9 173.9 L159.9 175.5 L157.9 177.0 L155.9 178.5 L153.9 180.0 L151.9 181.5 L149.9 183.0 L147.9 184.6 L145.9 186.1 L143.9 187.6 L141.9 189.2 L139.9 190.7 L137.9 192.2 L135.9 193.8 L133.9 195.3 L132.0 196.9 L130.0 198.4 L128.0 200.0 L126.0 201.5 L124.1 203.1 L122.1 204.7 L120.1 206.2 L118.2 207.8 L116.2 209.4 L114.2 210.9 L112.3 212.5 L110.3 214.1 L108.4 215.7 L106.4 217.3 L104.4 218.8 L102.5 220.4 L100.5 222.0 L98.6 223.6 L96.6 225.2 L94.7 226.8 L92.7 228.4 L90.8 230.0 L88.8 231.6 L86.9 233.2 L84.9 234.8 L83.0 236.4 L81.0 238.0 L79.1 239.6 L77.1 241.2 L75.2 242.8 L73.3 244.4 L71.3 246.0 L69.4 247.6 L67.4 249.2 L65.5 250.8 L63.5 252.5Z" fill="#000" stroke="#000" stroke-width="0.3" stroke-linejoin="round"/>
<path d="M170.4 207.6 L176.6 203.2 L176.3 209.6" fill="#15153a" fill-opacity="0.75" stroke="#15153a" stroke-width="2" stroke-linejoin="miter"/>
<line x1="234.8" y1="124.2" x2="234.8" y2="355.5" stroke="#e3202c" stroke-width="2.5" stroke-dasharray="15 1.7" stroke-dashoffset="-1"/>
<g font-family="'Liberation Sans', Arial, sans-serif" font-size="11.4" fill="#1c1c1c" stroke="#1c1c1c" stroke-width="0.3" text-anchor="middle">
<text x="191.7" y="211.2">246</text>
<text x="278.5" y="162">250</text>
<text x="354.9" y="132.8">260</text>
<text x="398.8" y="113.8">270</text>
<text x="443.2" y="91">280</text>
<text x="465.7" y="100.4">290</text>
<text x="469.7" y="132.4">300</text>
<text x="485.7" y="153.4">320</text>
<text x="489" y="197.6">350</text>
<text x="495.3" y="213.8">g/kWh</text>
</g>
<text x="295.4" y="33" font-family="'Liberation Sans', Arial, sans-serif" font-size="11.3" fill="#1c1c1c" stroke="#1c1c1c" stroke-width="0.3" textLength="6.7" lengthAdjust="spacingAndGlyphs">P</text>
<text x="302.4" y="39" font-family="'Liberation Sans', Arial, sans-serif" font-size="10" fill="#1c1c1c" stroke="#1c1c1c" stroke-width="0.35" textLength="14.2" lengthAdjust="spacingAndGlyphs">max</text>
<line x1="317.5" y1="41.4" x2="333" y2="60.5" stroke="#222" stroke-width="1.1"/>
<path d="M338.8 67.4 L324.4 59.8 L325.8 58 L331.3 59.8 L332.6 52.4 L334.8 52 Z" fill="#000" stroke="#000" stroke-width="0.8" stroke-linejoin="round"/>
<rect x="64.7" y="19.5" width="194" height="90.2" fill="#fff" stroke="#111" stroke-width="1.35"/>
<g font-family="'Liberation Serif', 'Times New Roman', serif" font-size="15" fill="#000" stroke="#000" stroke-width="0.3" text-anchor="middle">
<text x="161.3" y="41.9">Classic Fixed Speed</text>
<text x="161.3" y="82.8">Optimized Variable Speed</text>
</g>
<line x1="129.2" y1="52.2" x2="204.7" y2="51.2" stroke="#ee2030" stroke-width="2.2" stroke-dasharray="5.6 5 1.6 5.1"/>
<line x1="130" y1="93" x2="207" y2="91" stroke="#111" stroke-width="2.2"/>
<g font-family="'Liberation Serif', 'Times New Roman', serif" font-size="21.3" fill="#000" stroke="#000" stroke-width="0.3" text-anchor="middle">
<text x="284.4" y="406.5">Engine Speed (RPM)</text>
<text transform="translate(23.9 152) rotate(-90)">P (KW)</text>
</g>
</g>
</svg>
</body></html>
